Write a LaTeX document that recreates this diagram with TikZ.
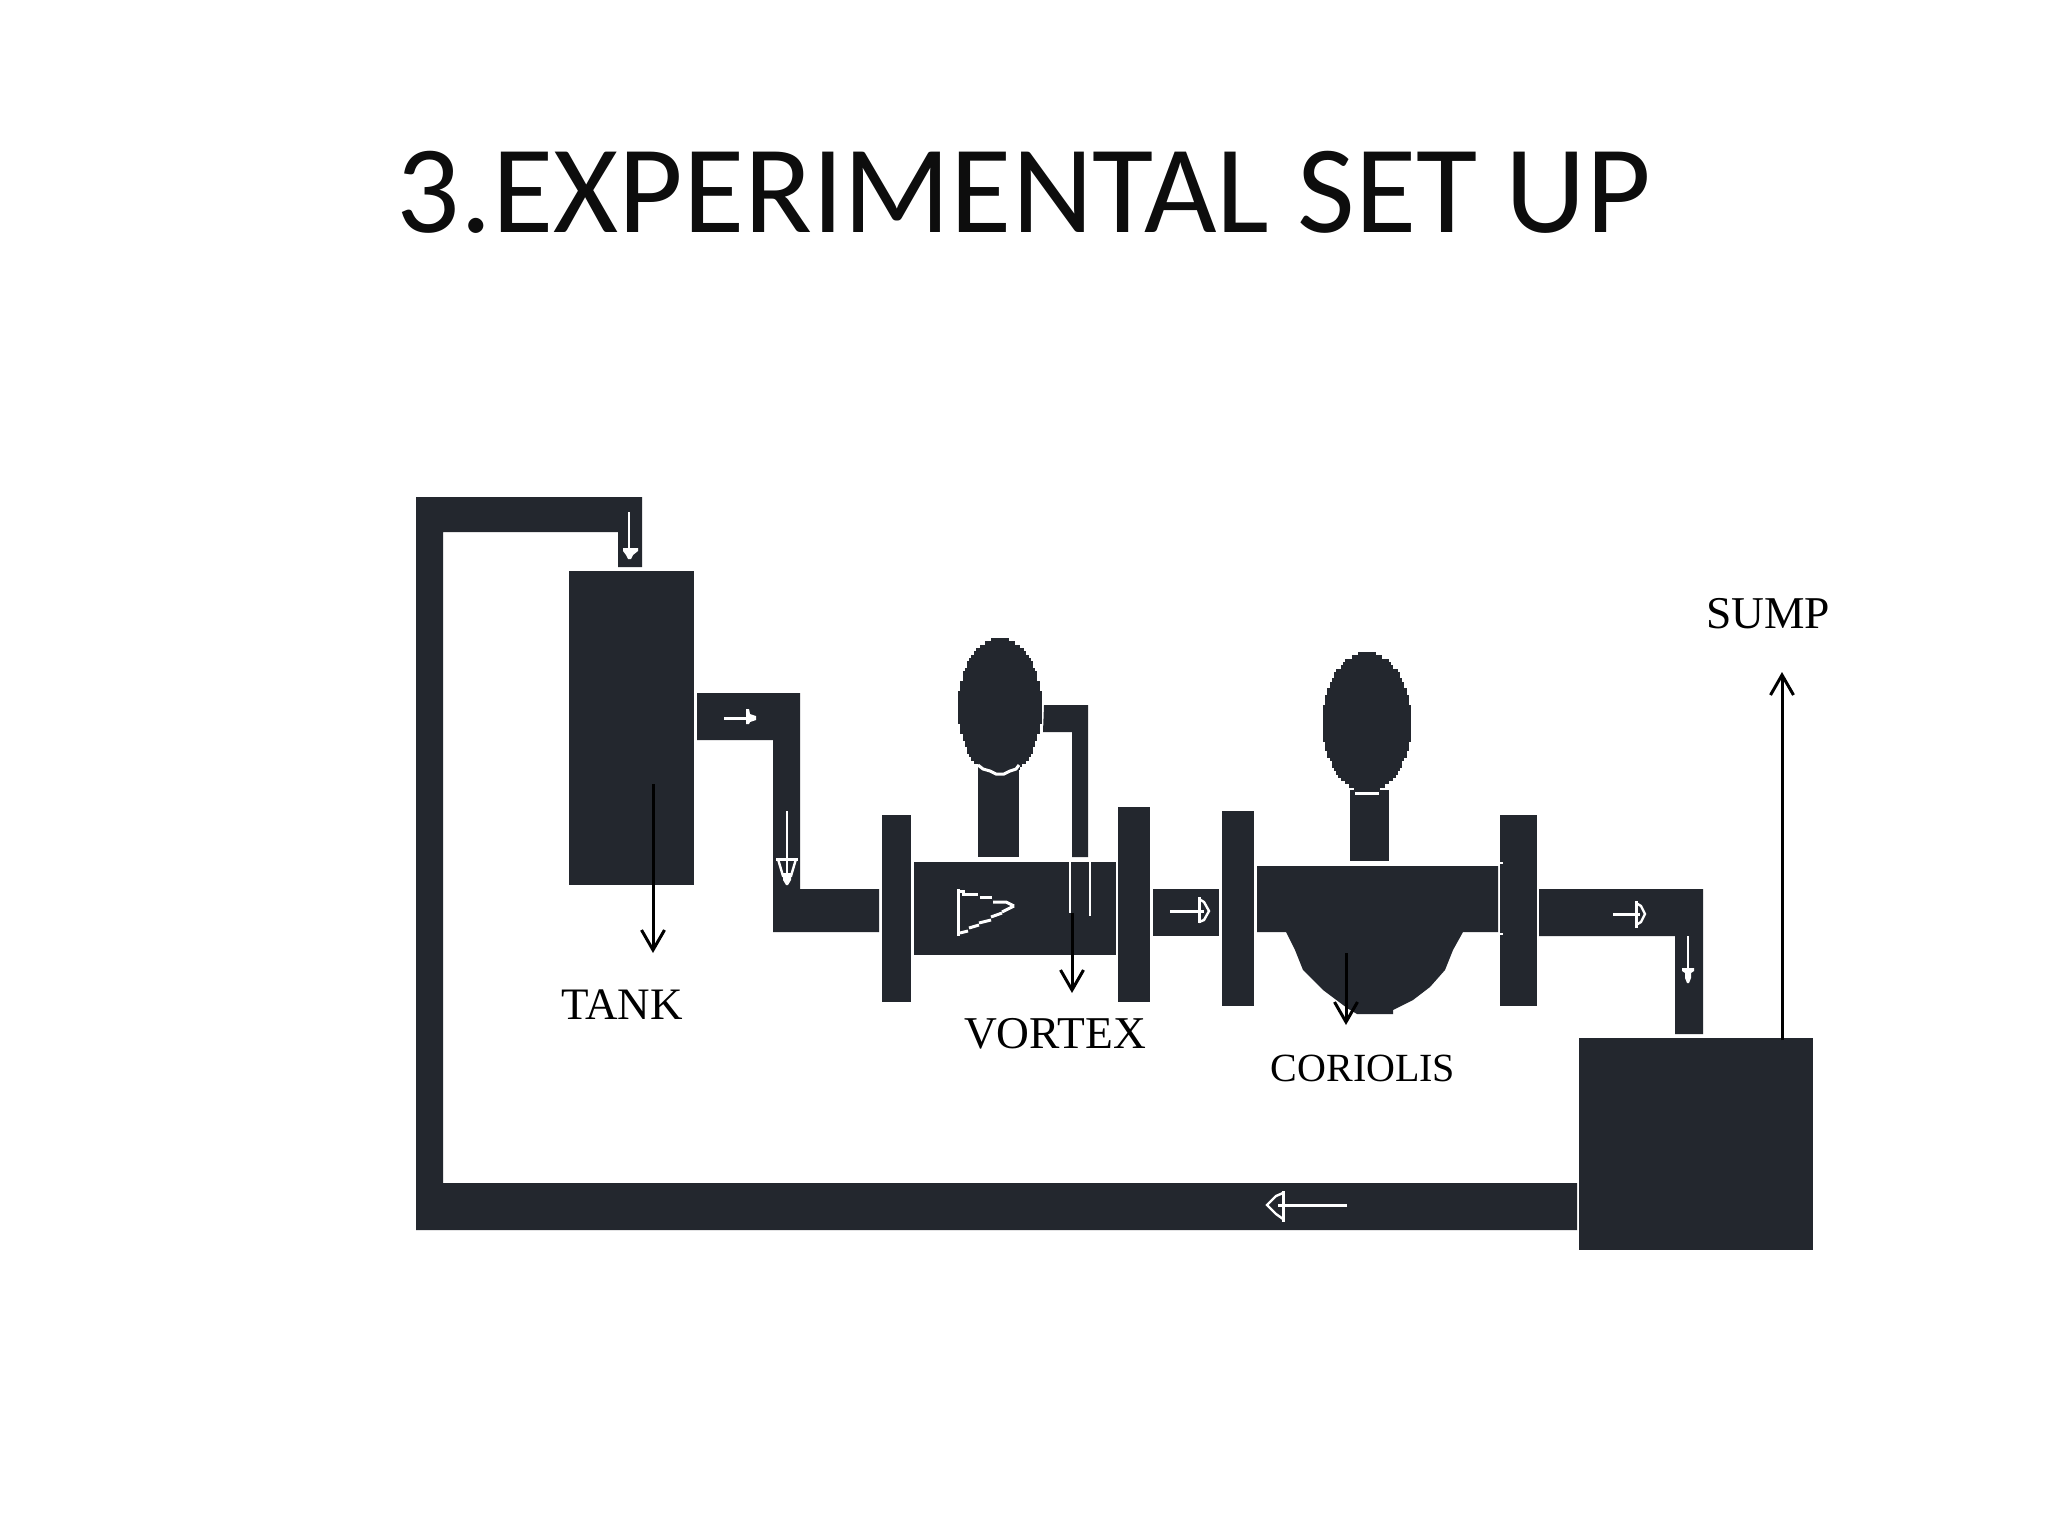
\documentclass[tikz,border=0pt]{standalone}
\usepackage{fontspec}
\setmainfont{Liberation Serif}
\newfontfamily\titlefont{Carlito}
\usetikzlibrary{arrows.meta}
\definecolor{ink}{HTML}{23272E}
\definecolor{titleink}{HTML}{0D0D0D}
\tikzset{
  part/.style={fill=ink,draw=none},
  leader/.style={draw=black,line width=3pt,-{Straight Barb[length=20pt,width=23pt,line width=3pt]}},
  flowline/.style={draw=white,line width=3pt},
  flowthin/.style={draw=white,line width=2.4pt},
  flowfill/.style={fill=white,draw=none},
  lab/.style={anchor=base,inner sep=0pt,text=black},
}
% stepped (bitmap-like) ellipse: centre x, centre y, x radius, y radius, rows-1
\newcommand{\pixellipse}[5]{%
  \foreach \r in {0,...,#5}{%
    \pgfmathsetmacro{\yy}{(#2)-(#4)+\r*3.3}%
    \pgfmathsetmacro{\tt}{min(0.995,abs((\yy+1.65-(#2))/(#4)))}%
    \pgfmathsetmacro{\hw}{2.2*round((#3)*sqrt(1-\tt*\tt)/2.2)}%
    \fill[part] ({#1-\hw},\yy) rectangle ({#1+\hw},\yy+3.7);%
  }%
}
\begin{document}
\begin{tikzpicture}[x=1pt,y=-1pt]
\useasboundingbox (0,0) rectangle (2048,1536);
\fill[white] (0,0) rectangle (2048,1536);
% title
\node[anchor=base,inner sep=0pt,text=titleink] (title) at (1024,232) {\titlefont\fontsize{125.3}{125.3}\selectfont 3.EXPERIMENTAL SET UP};
% return loop
\fill[part] (416,497) -- (642,497) -- (642,567) -- (618,567) -- (618,532) -- (443,532) -- (443,1183) -- (1577,1183) -- (1577,1230) -- (416,1230) -- cycle;
% tank
\fill[part] (569,571) rectangle (694,885);
% tank outlet
\fill[part] (697,693) -- (800,693) -- (800,889) -- (879,889) -- (879,932) -- (773,932) -- (773,740) -- (697,740) -- cycle;
% vortex meter
\fill[part] (882,815) rectangle (911,1002);
\fill[part] (914,862) rectangle (1116,955);
\fill[part] (1118,807) rectangle (1150,1002);
\fill[part] (978,765) rectangle (1019,857);
\pixellipse{1000}{707}{42}{69}{41}
\draw[flowline] (978,765) -- (983,769) -- (990,771) -- (996,774) -- (1004,774) -- (1010,771) -- (1016,769) -- (1019,765);
\fill[part] (1044,705) -- (1088,705) -- (1088,857) -- (1072,857) -- (1072,732) -- (1043,732) -- cycle;
\draw[flowthin] (1070,857) -- (1070,913);
\draw[flowthin] (1090,857) -- (1090,916);
\draw[flowthin] (1070,859) -- (1090,859);
% vortex bluff body
\draw[flowline] (958,889) -- (958,936);
\draw[flowline] (958,891) -- (963,891) -- (963,894) -- (978,894);
\draw[flowline] (980,897) -- (992,897);
\draw[flowline] (993,902) -- (1006,902) -- (1014,906);
\draw[flowline] (960,933) -- (968,931);
\draw[flowline] (969,928) -- (979,925);
\draw[flowline] (979,923) -- (991,920);
\draw[flowline] (991,917) -- (1002,913);
\draw[flowline] (1002,912) -- (1014,906);
% mid pipe
\fill[part] (1153,889) rectangle (1219,936);
\draw[flowline] (1220,938) -- (1224,938);
% coriolis meter
\fill[part] (1222,811) rectangle (1254,1006);
\fill[part] (1257,866) -- (1498,866) -- (1498,932) -- (1463,932) -- (1453,950) -- (1445,970) -- (1430,987) -- (1413,1000) -- (1393,1010) -- (1393,1014) -- (1357,1014) -- (1347,1008) -- (1323,990) -- (1303,970) -- (1295,950) -- (1286,932) -- (1257,932) -- cycle;
\fill[part] (1500,815) rectangle (1537,1006);
\draw[flowthin] (1500,863) -- (1503,863);
\draw[flowthin] (1500,934) -- (1503,934);
\fill[part] (1350,790) rectangle (1389,861);
\pixellipse{1367}{722}{44.5}{70}{42}
\draw[flowline] (1355,793) -- (1379,793);
% outlet pipe and sump
\fill[part] (1539,889) -- (1703,889) -- (1703,1034) -- (1675,1034) -- (1675,936) -- (1539,936) -- cycle;
\fill[part] (1579,1038) rectangle (1813,1250);
% flow arrows
\draw[flowthin] (629,512) -- (629,550);
\fill[flowfill] (623,548) -- (638,548) -- (638,551) -- (633,555) -- (631,559) -- (628,559) -- (626,555) -- (623,551) -- cycle;
\draw[flowline] (724,718) -- (750,718);
\fill[flowfill] (746,709) -- (749,709) -- (750,714) -- (756,716) -- (756,720) -- (750,722) -- (749,724) -- (746,724) -- cycle;
\draw[flowthin] (787,811) -- (787,878);
\draw[flowline] (776,859) -- (798,859);
\draw[flowthin] (778,859) -- (783,876) -- (791,876) -- (796,859);
\fill[flowfill] (783,873) -- (791,873) -- (791,880) -- (788,885) -- (786,885) -- (783,880) -- cycle;
\draw[flowline] (1170,911) -- (1204,911);
\draw[flowline] (1199,897) -- (1199,923);
\draw[flowthin] (1199,899) -- (1204,902) -- (1209,911) -- (1204,920) -- (1199,922);
\draw[flowline] (1613,914) -- (1640,914);
\draw[flowline] (1636,901) -- (1636,928);
\draw[flowthin] (1636,903) -- (1641,906) -- (1645,914) -- (1641,922) -- (1636,925);
\draw[flowthin] (1688,936) -- (1688,970);
\fill[flowfill] (1682,968) -- (1694,968) -- (1694,971) -- (1691,973) -- (1691,978) -- (1689,983) -- (1687,983) -- (1685,978) -- (1685,973) -- (1682,971) -- cycle;
\draw[flowline] (1347,1205) -- (1278,1205);
\draw[flowline] (1283,1191) -- (1283,1222);
\draw[flowthin] (1283,1193) -- (1276,1196) -- (1267,1205) -- (1276,1214) -- (1283,1219);
% labels
\node[lab,font=\fontsize{45}{45}\selectfont] (tank) at (622,1019) {TANK};
\node[lab,font=\fontsize{45.5}{45.5}\selectfont] (vortex) at (1055,1048) {VORTEX};
\node[lab,font=\fontsize{40}{40}\selectfont] (coriolis) at (1363,1081) {CORIOLIS};
\node[lab,font=\fontsize{45.5}{45.5}\selectfont] (sump) at (1768,628) {SUMP};
% leader arrows
\coordinate (tankfrom) at (653,784);
\coordinate (tankto) at (653,953);
\coordinate (vortexfrom) at (1072,913);
\coordinate (vortexto) at (1072,993);
\coordinate (coriolisfrom) at (1346,953);
\coordinate (coriolisto) at (1346,1025);
\coordinate (sumpfrom) at (1782,1040);
\coordinate (sumpto) at (1782,672);
\draw[leader] (tankfrom) -- (tankto);
\draw[leader] (vortexfrom) -- (vortexto);
\draw[leader] (coriolisfrom) -- (coriolisto);
\draw[leader] (sumpfrom) -- (sumpto);
\end{tikzpicture}
\end{document}
